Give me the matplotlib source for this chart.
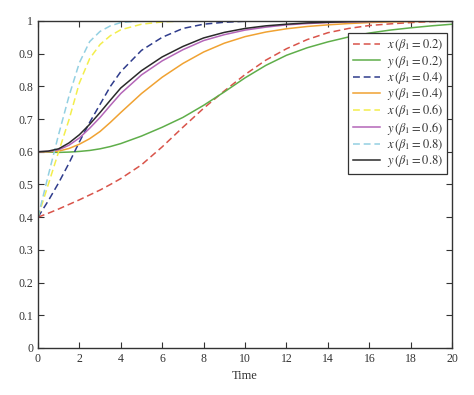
import matplotlib
matplotlib.use("Agg")
import matplotlib.pyplot as plt

plt.rcParams["font.family"] = ["Liberation Serif", "DejaVu Serif"]
plt.rcParams["mathtext.fontset"] = "stix"

# time samples
time = [0, 0.5, 1, 1.5, 2, 2.5, 3, 3.5, 4, 5, 6, 7, 8, 9, 10,
        11, 12, 13, 14, 15, 16, 17, 18, 19, 20]

x_b02 = [0.400, 0.412, 0.425, 0.439, 0.453, 0.468, 0.483, 0.500, 0.518, 0.560,
         0.615, 0.675, 0.733, 0.786, 0.836, 0.880, 0.915, 0.943, 0.964, 0.977,
         0.986, 0.991, 0.995, 0.998, 0.999]
y_b02 = [0.600, 0.599, 0.598, 0.599, 0.601, 0.604, 0.609, 0.616, 0.625, 0.648,
         0.675, 0.705, 0.742, 0.783, 0.826, 0.864, 0.895, 0.918, 0.936, 0.951,
         0.963, 0.972, 0.979, 0.985, 0.990]
x_b04 = [0.400, 0.450, 0.505, 0.565, 0.630, 0.690, 0.745, 0.800, 0.845, 0.910,
         0.950, 0.977, 0.990, 0.996, 0.999, 1.000, 1.000, 1.000, 1.000, 1.000,
         1.000, 1.000, 1.000, 1.000, 1.000]
y_b04 = [0.600, 0.600, 0.602, 0.610, 0.623, 0.640, 0.662, 0.690, 0.720, 0.778,
         0.828, 0.870, 0.905, 0.932, 0.952, 0.966, 0.976, 0.983, 0.988, 0.992,
         0.995, 0.997, 0.998, 0.999, 1.000]
x_b06 = [0.400, 0.500, 0.600, 0.698, 0.810, 0.885, 0.928, 0.955, 0.973, 0.990,
         0.997, 1.000, 1.000, 1.000, 1.000, 1.000, 1.000, 1.000, 1.000, 1.000,
         1.000, 1.000, 1.000, 1.000, 1.000]
y_b06 = [0.600, 0.601, 0.606, 0.620, 0.642, 0.672, 0.705, 0.742, 0.778, 0.835,
         0.878, 0.912, 0.940, 0.958, 0.972, 0.981, 0.988, 0.992, 0.995, 0.997,
         0.998, 0.999, 1.000, 1.000, 1.000]
x_b08 = [0.400, 0.528, 0.653, 0.770, 0.872, 0.937, 0.968, 0.985, 0.995, 1.000,
         1.000, 1.000, 1.000, 1.000, 1.000, 1.000, 1.000, 1.000, 1.000, 1.000,
         1.000, 1.000, 1.000, 1.000, 1.000]
y_b08 = [0.600, 0.602, 0.609, 0.627, 0.652, 0.684, 0.720, 0.758, 0.795, 0.848,
         0.890, 0.922, 0.948, 0.965, 0.977, 0.985, 0.990, 0.994, 0.996, 0.998,
         0.999, 1.000, 1.000, 1.000, 1.000]

series = [
    (x_b02, r"$x\,(\beta_1 = 0.2)$", "#d9544a", "dash"),
    (y_b02, r"$y\,(\beta_1 = 0.2)$", "#5fae4a", "solid"),
    (x_b04, r"$x\,(\beta_1 = 0.4)$", "#2f3c8c", "dash"),
    (y_b04, r"$y\,(\beta_1 = 0.4)$", "#f0a232", "solid"),
    (x_b06, r"$x\,(\beta_1 = 0.6)$", "#f3ee4c", "dash"),
    (y_b06, r"$y\,(\beta_1 = 0.6)$", "#b466b8", "solid"),
    (x_b08, r"$x\,(\beta_1 = 0.8)$", "#93d0e2", "dash"),
    (y_b08, r"$y\,(\beta_1 = 0.8)$", "#2a2a2a", "solid"),
]

fig = plt.figure(figsize=(4.74, 3.95), dpi=100)
ax = fig.add_axes([0.080, 0.119, 0.874, 0.828])

for vals, label, color, style in series:
    ls = (0, (4.5, 2.5)) if style == "dash" else "-"
    ax.plot(time, vals, linestyle=ls, color=color, linewidth=1.1, label=label)

ax.set_xlim(0, 20)
ax.set_ylim(0, 1)
ax.set_xticks(range(0, 21, 2))
yt = [i / 10 for i in range(11)]
ax.set_yticks(yt)
ax.set_yticklabels(["0"] + [f"{v:.1f}" for v in yt[1:-1]] + ["1"])
ax.tick_params(direction="in", top=True, right=True, length=4, width=0.8,
               labelsize=8.5, colors="#333333")
for sp in ax.spines.values():
    sp.set_linewidth(1.0)
    sp.set_color("#333333")
ax.set_xlabel("Time", fontsize=9, color="#333333", labelpad=4)

leg = ax.legend(loc="upper right", bbox_to_anchor=(0.988, 0.963), borderaxespad=0,
                fancybox=False, edgecolor="#333333", framealpha=1, fontsize=9,
                handlelength=2.2, handletextpad=0.5, labelspacing=0.02,
                borderpad=0.35)
leg.get_frame().set_linewidth(0.9)
for txt in leg.get_texts():
    txt.set_color("#333333")

fig.savefig("out.png", dpi=100)
